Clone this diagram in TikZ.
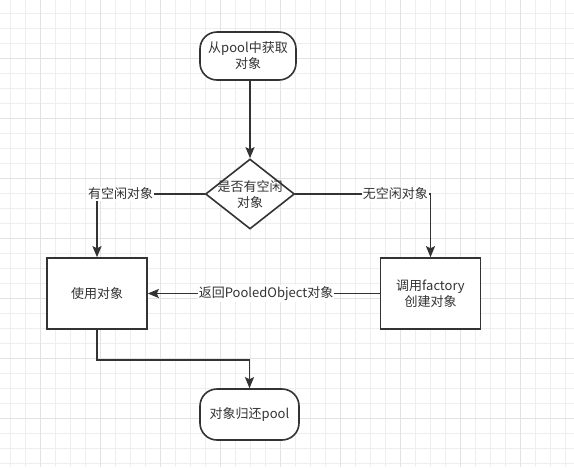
\documentclass[tikz,border=0pt]{standalone}
\usepackage{fontspec}
\setmainfont{Noto Sans CJK SC}
\usetikzlibrary{arrows.meta,shapes.geometric}
\definecolor{ln}{HTML}{333333}
\definecolor{gminor}{HTML}{EEEEEE}
\definecolor{gmajor}{HTML}{E2E2E2}
\tikzset{
  box/.style={draw=ln, line width=1.6pt, fill=white, rectangle, minimum width=100pt, minimum height=71pt, align=center, font=\fontsize{13pt}{16pt}\selectfont, text=ln, inner sep=0pt},
  term/.style={draw=ln, line width=1.6pt, fill=white, rectangle, rounded corners=17pt, align=center, font=\fontsize{13pt}{16pt}\selectfont, text=ln, inner sep=0pt},
  dec/.style={draw=ln, line width=1.6pt, fill=white, diamond, minimum width=89pt, minimum height=70pt, inner sep=0pt},
  txt/.style={align=center, font=\fontsize{13pt}{16pt}\selectfont, text=ln, inner sep=1pt},
  lbl/.style={fill=white, font=\fontsize{13pt}{16pt}\selectfont, text=ln, inner sep=1pt},
  conn/.style={draw=ln, line width=1.6pt},
  arr/.style={conn, -{Stealth[length=11pt,width=9pt,inset=2pt]}}
}
\begin{document}
\begin{tikzpicture}[x=1pt,y=-1pt]
\useasboundingbox (0,0) rectangle (574,467);
\fill[white] (0,0) rectangle (574,467);
\foreach \i in {0,...,37} {\draw[gminor, line width=1pt] (10+15*\i,0) -- (10+15*\i,467);}
\foreach \j in {0,...,30} {\draw[gminor, line width=1pt] (0,13.3+15*\j) -- (574,13.3+15*\j);}
\foreach \i in {0,...,8} {\draw[gmajor, line width=1pt] (40+60*\i,0) -- (40+60*\i,467);}
\foreach \j in {0,...,7} {\draw[gmajor, line width=1pt] (0,58.3+60*\j) -- (574,58.3+60*\j);}

\node[term, minimum width=96pt, minimum height=48pt] (start) at (248,56) {从pool中获取\\对象};
\node[dec] (cond) at (250,194) {};
\node[txt] (condt) at (250,195) {是否有空闲\\对象};
\node[box] (use) at (97,293.5) {使用对象};
\node[box] (fac) at (430.5,293.5) {调用factory\\创建对象};
\node[term, minimum width=99pt, minimum height=51pt] (end) at (249.5,414.5) {对象归还pool};
\coordinate (turn) at (97,360);

\draw[arr] (cond.north |- start.south) -- (cond.north);
\draw[arr] (cond.west) -| node[lbl, pos=0.39] {有空闲对象} (use.north);
\draw[arr] (cond.east) -| node[lbl, pos=0.37] {无空闲对象} (fac.north);
\draw[arr] (fac.west) -- node[lbl, pos=0.49] {返回PooledObject对象} (use.east);
\draw[arr] (use.south) -- (turn) -| (end.north);
\end{tikzpicture}
\end{document}
